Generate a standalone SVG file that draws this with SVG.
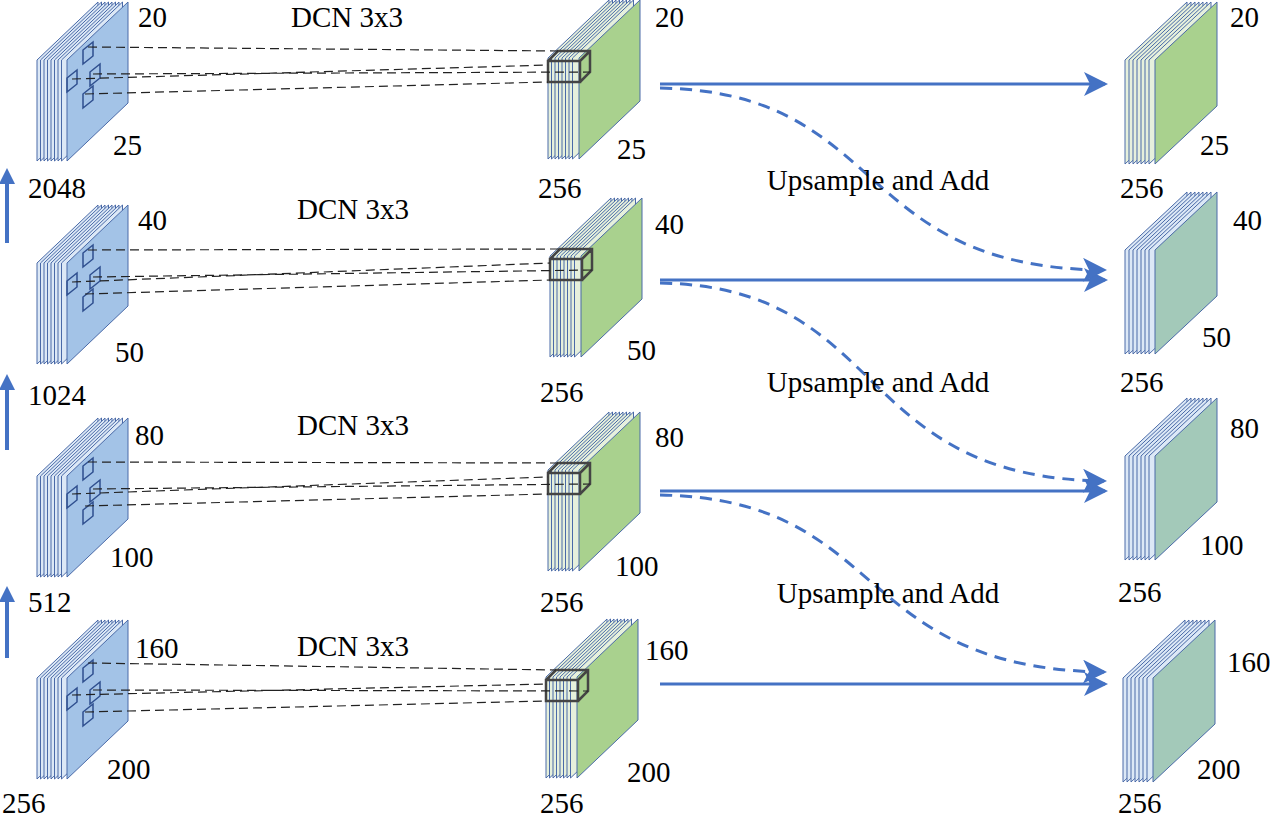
<svg xmlns="http://www.w3.org/2000/svg" xmlns:xlink="http://www.w3.org/1999/xlink" width="1270" height="820" viewBox="0 0 1270 820">
<style>
text{font-family:"Liberation Serif",serif;font-size:29px;fill:#000}
.bl{fill:#dce8f6;stroke:#4a6aa8;stroke-width:1}
.bf{fill:#a3c3e7;stroke:#4a6aa8;stroke-width:1}
.gl{fill:#e6f0dc;stroke:#4a6aa8;stroke-width:1}
.gf{fill:#a9d18e;stroke:#4a6aa8;stroke-width:1}
.tf{fill:#a3c9b9;stroke:#4a6aa8;stroke-width:1}
.sq{fill:none;stroke:#2f4f8f;stroke-width:1.5}
.dl{stroke:#222;stroke-width:1.2;stroke-dasharray:9,5;fill:none}
.cube{fill:none;stroke:#444;stroke-width:2.5}
.ar{stroke:#4472c4;stroke-width:3;fill:none}
.va{stroke:#4472c4;stroke-width:4;fill:none}
.da{stroke:#4472c4;stroke-width:3;fill:none;stroke-dasharray:12,8}
</style>
<defs>
<polygon id="s" points="0,58 61,0 61,101 0,159"/>
<polygon id="r" points="0,58 62,0 62,104 0,162"/>
<polygon id="q" points="0,8 10,0 10,14 0,22"/>
<marker id="ah" markerWidth="8" markerHeight="8" refX="7" refY="4" orient="auto" markerUnits="strokeWidth"><path d="M0,0L8,4L0,8L2,4Z" fill="#4472c4"/></marker>
<marker id="vh" markerWidth="4" markerHeight="4" refX="3" refY="2" orient="auto" markerUnits="strokeWidth"><path d="M0,0L4,2L0,4Z" fill="#4472c4"/></marker>
<g id="L"><use href="#s" class="bl" x="0"/><use href="#s" class="bl" x="3.5"/><use href="#s" class="bl" x="7"/><use href="#s" class="bl" x="10.5"/><use href="#s" class="bl" x="14"/><use href="#s" class="bl" x="17.5"/><use href="#s" class="bl" x="21"/><use href="#s" class="bl" x="24.5"/><use href="#s" class="bf" x="30"/>
<use href="#q" class="sq" x="46" y="40"/><use href="#q" class="sq" x="30" y="68"/><use href="#q" class="sq" x="53" y="62"/><use href="#q" class="sq" x="46" y="84"/></g>
<g id="M"><use href="#s" class="gl" x="0"/><use href="#s" class="gl" x="3.5"/><use href="#s" class="gl" x="7"/><use href="#s" class="gl" x="10.5"/><use href="#s" class="gl" x="14"/><use href="#s" class="gl" x="17.5"/><use href="#s" class="gl" x="21"/><use href="#s" class="gl" x="24.5"/><use href="#s" class="gf" x="31"/>
<path class="cube" d="M0,61H32V82H0Z M0,61L10,51H42V72L32,82 M32,61L42,51"/></g>
<g id="RG"><use href="#r" class="gl" x="0"/><use href="#r" class="gl" x="4"/><use href="#r" class="gl" x="8"/><use href="#r" class="gl" x="12"/><use href="#r" class="gl" x="16"/><use href="#r" class="gl" x="20"/><use href="#r" class="gl" x="24"/><use href="#r" class="gf" x="30"/></g>
<g id="RT"><use href="#r" class="bl" x="0"/><use href="#r" class="bl" x="4"/><use href="#r" class="bl" x="8"/><use href="#r" class="bl" x="12"/><use href="#r" class="bl" x="16"/><use href="#r" class="bl" x="20"/><use href="#r" class="bl" x="24"/><use href="#r" class="tf" x="30"/></g>
</defs>
<g id="left1"><use href="#L" x="37" y="2"/></g>
<g id="left2"><use href="#L" x="37" y="205"/></g>
<g id="left3"><use href="#L" x="37" y="418"/></g>
<g id="left4"><use href="#L" x="37" y="620"/></g>
<g id="mid1"><use href="#M" x="548" y="0"/></g>
<g id="mid2"><use href="#M" x="550" y="198"/></g>
<g id="mid3"><use href="#M" x="548" y="412"/></g>
<g id="mid4"><use href="#M" x="546" y="619"/></g>
<g id="right1"><use href="#RG" x="1125" y="2"/></g>
<g id="right2"><use href="#RT" x="1125" y="192"/></g>
<g id="right3"><use href="#RT" x="1125" y="398"/></g>
<g id="right4"><use href="#RT" x="1123" y="620"/></g>
<g id="connectors">
<path class="dl" d="M88,47L558,51 M72,79L548,65 M93,74L590,72 M85,94L548,82"/>
<path class="dl" d="M88,250L560,249 M72,282L550,263 M93,277L592,270 M85,294L550,280"/>
<path class="dl" d="M88,462L558,463 M72,494L548,477 M93,489L590,484 M85,506L548,494"/>
<path class="dl" d="M88,663L556,670 M72,695L546,684 M93,690L588,691 M85,712L546,701"/>
<path class="ar" marker-end="url(#ah)" d="M660,84H1105"/>
<path class="ar" marker-end="url(#ah)" d="M660,280H1105"/>
<path class="ar" marker-end="url(#ah)" d="M660,491H1105"/>
<path class="ar" marker-end="url(#ah)" d="M660,684H1105"/>
<path class="da" marker-end="url(#ah)" d="M660,88C890,92 850,268 1104,270"/>
<path class="da" marker-end="url(#ah)" d="M660,283C890,287 850,478 1104,481"/>
<path class="da" marker-end="url(#ah)" d="M660,495C890,499 850,668 1104,672"/>
<path class="va" marker-end="url(#vh)" d="M7,243V172"/>
<path class="va" marker-end="url(#vh)" d="M7,450V378"/>
<path class="va" marker-end="url(#vh)" d="M7,658V590"/>
</g>
<g id="labels">
<text x="347" y="27" text-anchor="middle">DCN 3x3</text>
<text x="353" y="219" text-anchor="middle">DCN 3x3</text>
<text x="353" y="435" text-anchor="middle">DCN 3x3</text>
<text x="353" y="656" text-anchor="middle">DCN 3x3</text>
<text x="878" y="190" text-anchor="middle">Upsample and Add</text>
<text x="878" y="392" text-anchor="middle">Upsample and Add</text>
<text x="888" y="603" text-anchor="middle">Upsample and Add</text>
<text x="28" y="198">2048</text><text x="28" y="405">1024</text><text x="28" y="612">512</text><text x="2" y="813">256</text>
<text x="138" y="27">20</text><text x="113" y="155">25</text>
<text x="138" y="230">40</text><text x="115" y="362">50</text>
<text x="135" y="445">80</text><text x="110" y="567">100</text>
<text x="135" y="658">160</text><text x="107" y="779">200</text>
<text x="655" y="27">20</text><text x="617" y="159">25</text><text x="538" y="198">256</text>
<text x="655" y="234">40</text><text x="627" y="360">50</text><text x="540" y="402">256</text>
<text x="655" y="447">80</text><text x="615" y="576">100</text><text x="540" y="612">256</text>
<text x="645" y="660">160</text><text x="627" y="782">200</text><text x="540" y="813">256</text>
<text x="1230" y="27">20</text><text x="1200" y="155">25</text><text x="1120" y="198">256</text>
<text x="1233" y="230">40</text><text x="1202" y="347">50</text><text x="1120" y="392">256</text>
<text x="1230" y="438">80</text><text x="1200" y="555">100</text><text x="1118" y="602">256</text>
<text x="1227" y="672">160</text><text x="1197" y="779">200</text><text x="1118" y="813">256</text>
</g>
</svg>
